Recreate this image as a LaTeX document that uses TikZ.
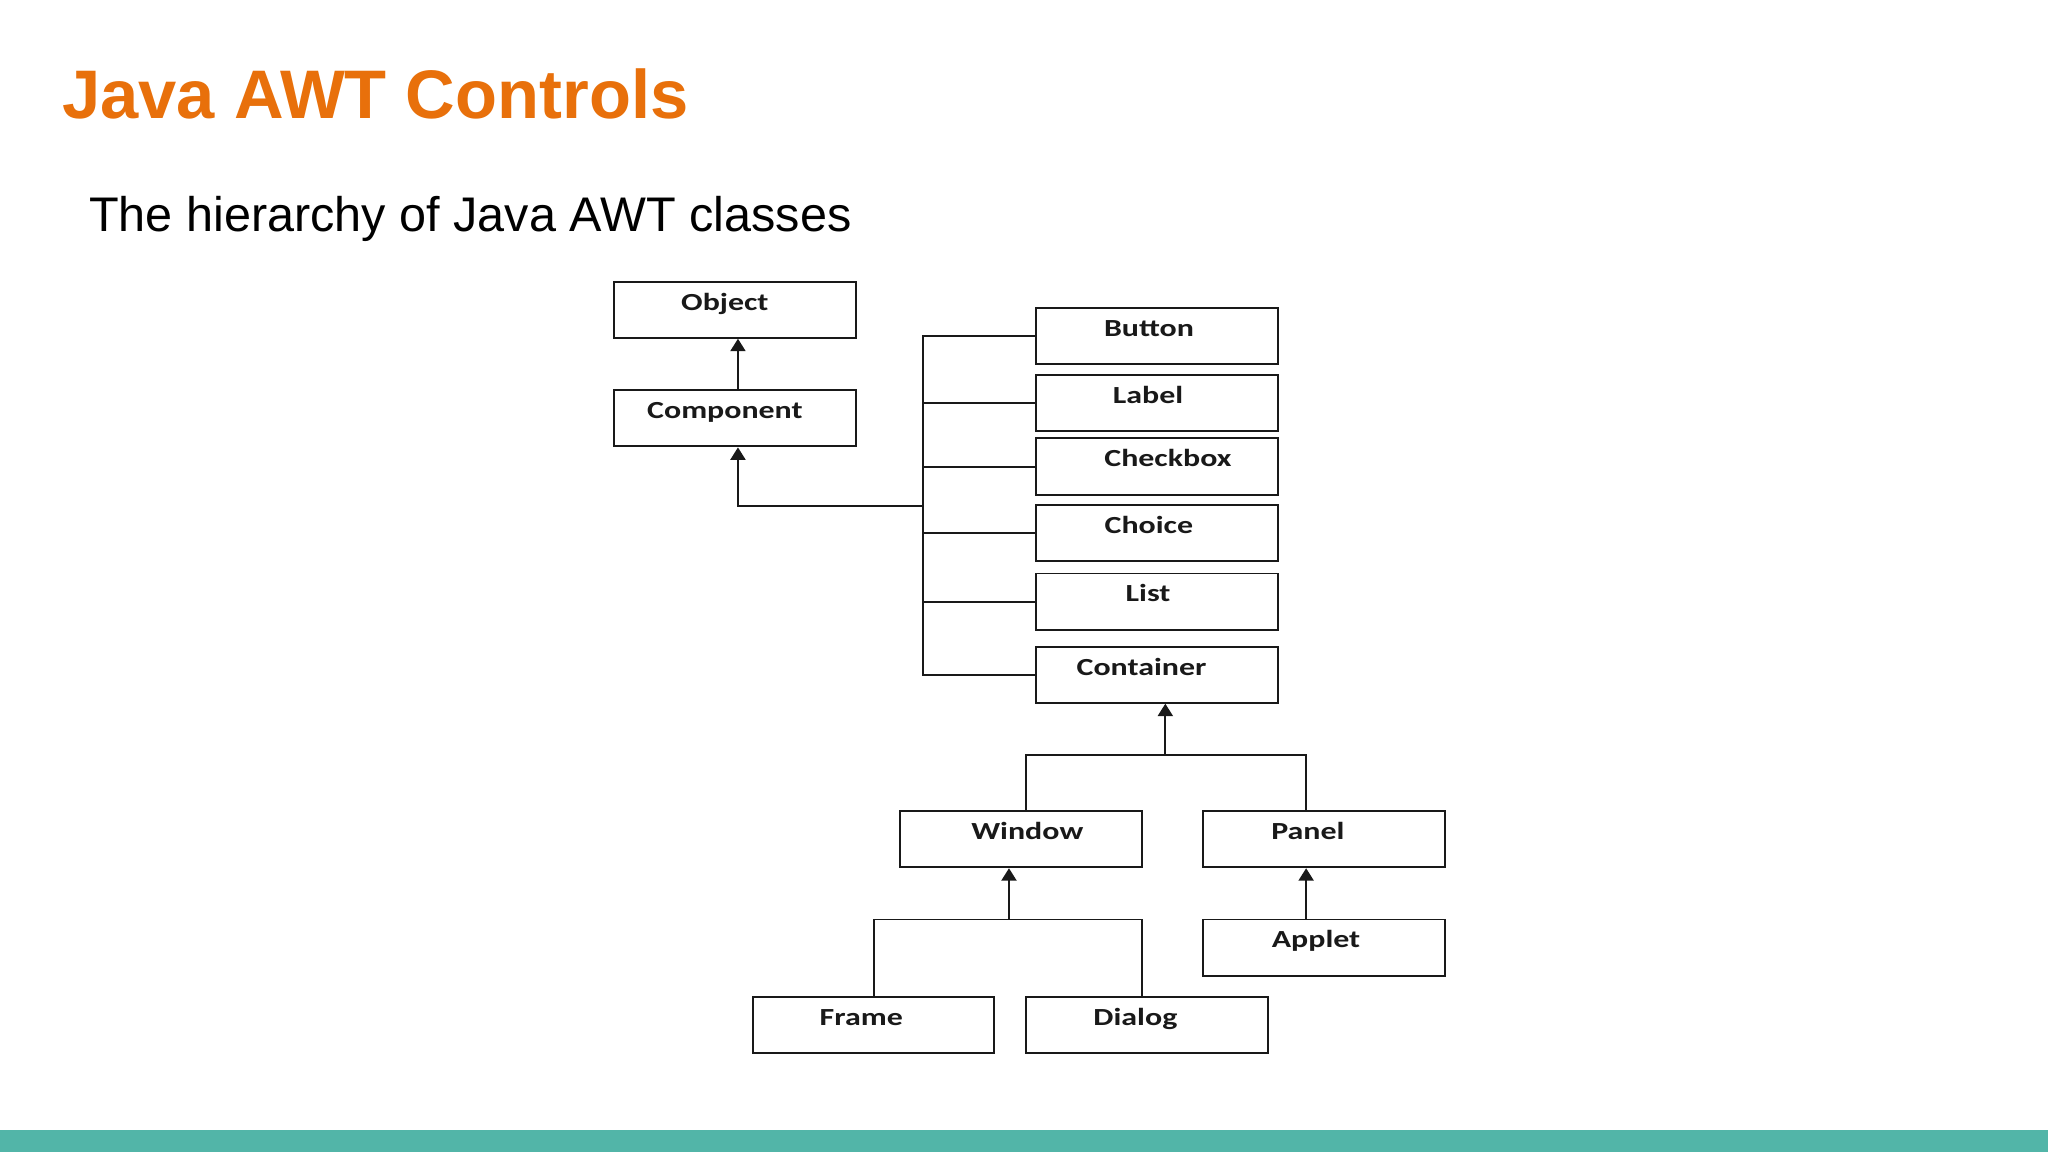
\documentclass[tikz,border=0pt]{standalone}
\usepackage{fontspec}
\setmainfont{Liberation Sans}
\newfontfamily\clsfont{Carlito}
\usetikzlibrary{arrows.meta}
\definecolor{titleorange}{HTML}{E8700B}
\definecolor{barteal}{HTML}{52B5A8}
\tikzset{
  clsbox/.style={draw=black!90, line width=1.5pt, minimum width=185pt, minimum height=43pt, inner sep=0pt, fill=white},
  clstxt/.style={anchor=base, inner sep=0pt, font=\clsfont\bfseries\fontsize{18.8}{20}\selectfont, text=black!90},
  conn/.style={draw=black!90, line width=1.5pt},
  arr/.style={conn, -{Triangle[length=9.5pt, width=11.5pt]}}
}
\newcommand\clsname[1]{\scalebox{1.3}[1]{#1}}
\begin{document}
\begin{tikzpicture}[x=1pt, y=-1pt]
\useasboundingbox (0,0) rectangle (1568,882);
\fill[white] (0,0) rectangle (1568,882);
\fill[barteal] (0,865) rectangle (1568,882);
\node[anchor=base west, inner sep=0pt, text=titleorange, font=\bfseries\fontsize{52.6}{60}\selectfont] (title) at (47.5,90.6) {Java AWT Controls};
\node[anchor=base west, inner sep=0pt, font=\fontsize{37.2}{42}\selectfont] (subtitle) at (68,177.5) {The hierarchy of Java AWT classes};
% boxes
\node[clsbox] (obj) at (562.5,237.1) {};
\node[clsbox] (comp) at (562.5,320.3) {};
\node[clsbox] (button) at (885.9,257.5) {};
\node[clsbox] (label) at (885.9,308.7) {};
\node[clsbox] (checkbox) at (885.9,357.2) {};
\node[clsbox] (choice) at (885.9,408.3) {};
\node[clsbox] (list) at (885.9,460.6) {};
\node[clsbox] (container) at (885.9,516.5) {};
\node[clsbox] (window) at (781.5,642.5) {};
\node[clsbox] (panel) at (1013.7,642.5) {};
\node[clsbox] (applet) at (1013.7,725.5) {};
\node[clsbox] (frame) at (668.7,785) {};
\node[clsbox] (dialog) at (878,785) {};
% labels
\node[clstxt] at (555,237.4) {\clsname{Object}};
\node[clstxt] at (555,320.6) {\clsname{Component}};
\node[clstxt] at (879.7,257.8) {\clsname{Button}};
\node[clstxt] at (879,309) {\clsname{Label}};
\node[clstxt] at (894.2,357.5) {\clsname{Checkbox}};
\node[clstxt] at (879.6,408.6) {\clsname{Choice}};
\node[clstxt] at (879,460.9) {\clsname{List}};
\node[clstxt] at (874,516.8) {\clsname{Container}};
\node[clstxt] at (786.5,642.8) {\clsname{Window}};
\node[clstxt] at (1001.3,642.8) {\clsname{Panel}};
\node[clstxt] at (1007.6,725.8) {\clsname{Applet}};
\node[clstxt] at (659.4,785.3) {\clsname{Frame}};
\node[clstxt] at (869.3,785.3) {\clsname{Dialog}};
% connectors
\draw[arr] ([xshift=2.5pt]comp.north) -- ([xshift=2.5pt]obj.south);
\coordinate (busx) at (707,387.2);
\draw[conn] (button.west) -- (button.west -| busx) -- (container.west -| busx) -- (container.west);
\draw[conn] (label.west) -- (label.west -| busx);
\draw[conn] (checkbox.west) -- (checkbox.west -| busx);
\draw[conn] (choice.west) -- (choice.west -| busx);
\draw[conn] (list.west) -- (list.west -| busx);
\draw[arr] (busx) -| ([xshift=2.5pt]comp.south);
\coordinate (cjoin) at (892.2,578);
\draw[arr] (cjoin) -- (cjoin |- container.south);
\draw[conn] ([xshift=4pt]window.north) |- (cjoin) -| ([xshift=-13.7pt]panel.north);
\coordinate (wjoin) at (772.5,704);
\draw[arr] (wjoin) -- (wjoin |- window.south);
\draw[conn] ([xshift=0.6pt]frame.north) |- (wjoin) -| ([xshift=-3.7pt]dialog.north);
\draw[arr] ([xshift=-13.7pt]applet.north) -- ([xshift=-13.7pt]panel.south);
\end{tikzpicture}
\end{document}
